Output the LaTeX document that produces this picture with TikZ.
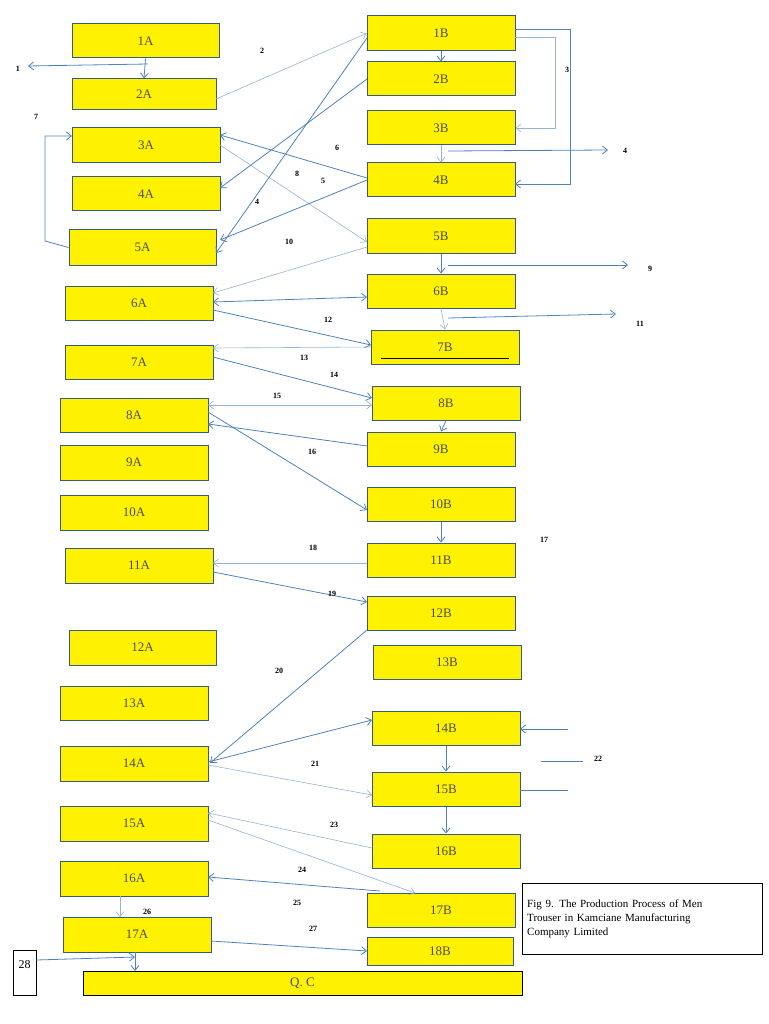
\documentclass[tikz,border=0pt]{standalone}
\usepackage{fontspec}
\setmainfont{Liberation Serif}
\usetikzlibrary{arrows.meta}
\definecolor{ln}{HTML}{4F81BD}
\definecolor{lnl}{HTML}{95B3D7}
\tikzset{
 bx/.style={draw=ln!70!black,fill=yellow,line width=1pt,font=\fontsize{13}{13}\selectfont,text=black!70},
 ar/.style={draw=ln,line width=0.8pt,-{Straight Barb[length=5pt,width=8pt]}},
 arl/.style={draw=lnl,line width=0.6pt,-{Straight Barb[length=5pt,width=8pt]}},
 ln/.style={draw=ln,line width=0.8pt},
 lb/.style={font=\fontsize{8}{8}\selectfont\bfseries}
}
\newcommand{\bxn}[6]{\node[bx,minimum width=#4pt-#2pt,minimum height=#5pt-#3pt,inner sep=0pt] (#1) at ({(#2+#4)/2},{(#3+#5)/2}) {#6};}
\begin{document}
\begin{tikzpicture}[x=1pt,y=-1pt]
\useasboundingbox (0,0) rectangle (768,1024);
\bxn{a1}{72}{24}{219}{58}{1A}
\bxn{a2}{72}{79}{216}{110}{2A}
\bxn{a3}{72}{128}{220}{163}{3A}
\bxn{a4}{72}{177}{220}{211}{4A}
\bxn{a5}{69}{230}{216}{265}{5A}
\bxn{a6}{65}{286}{213}{320}{6A}
\bxn{a7}{65}{345}{213}{379}{7A}
\bxn{a8}{60}{398}{208}{432}{8A}
\bxn{a9}{60}{445}{208}{480}{9A}
\bxn{a10}{60}{495}{208}{530}{10A}
\bxn{a11}{65}{548}{213}{583}{11A}
\bxn{a12}{69}{630}{216}{665}{12A}
\bxn{a13}{60}{686}{208}{720}{13A}
\bxn{a14}{60}{746}{208}{781}{14A}
\bxn{a15}{60}{806}{208}{841}{15A}
\bxn{a16}{60}{861}{208}{896}{16A}
\bxn{a17}{63}{917}{211}{952}{17A}
\node[bx,draw=black,minimum width=439pt,minimum height=24pt,inner sep=0pt] (qc) at (302.5,983) {Q. C};
\bxn{b1}{367}{16}{515}{51}{1B}
\bxn{b2}{367}{62}{515}{96}{2B}
\bxn{b3}{367}{111}{515}{145}{3B}
\bxn{b4}{367}{163}{515}{197}{4B}
\bxn{b5}{367}{219}{515}{253}{5B}
\bxn{b6}{367}{274}{515}{308}{6B}
\bxn{b7}{371}{330}{519}{364}{7B}
\draw[black,line width=0.6pt] (381,358) -- (509,358);
\bxn{b8}{372}{386}{520}{420}{8B}
\bxn{b9}{367}{432}{515}{466}{9B}
\bxn{b10}{367}{487}{515}{521}{10B}
\bxn{b11}{367}{543}{515}{577}{11B}
\bxn{b12}{367}{596}{515}{630}{12B}
\bxn{b13}{373}{645}{521}{679}{13B}
\bxn{b14}{372}{711}{520}{745}{14B}
\bxn{b15}{372}{772}{520}{806}{15B}
\bxn{b16}{372}{834}{520}{868}{16B}
\bxn{b17}{367}{893}{515}{927}{17B}
\bxn{b18}{367}{937}{513}{965}{18B}
\node[draw,fill=white,minimum width=23pt,minimum height=45pt,inner sep=0pt,font=\fontsize{12}{12}\selectfont] (n28) at (24.5,972.5) {\raisebox{16pt}{28}};
\node[draw,minimum width=240pt,minimum height=71pt,inner sep=4pt,text width=230pt,align=left,anchor=north west,font=\fontsize{11}{14}\selectfont] (cap) at (522,883) {Fig 9. The Production Process of Men\\Trouser in Kamciane Manufacturing\\Company Limited\\[4pt]};
% connectors
\draw[ar] (a1.south) -- (a2.north);
\coordinate (e1) at (28,66);
\draw[ar] (148,64) -- (e1);
\node[lb] at (18,69) {1};
\draw[arl] (216,99) -- (b1.west);
\node[lb] at (262,51) {2};
\draw[ar] (b1.south) -- (b2.north);
\draw[arl] (515,37) -- (555,37) -- (555,128) -- (b3.east);
\draw[ar] (515,29) -- (570,29) -- (570,184) -- (515,184);
\node[lb] at (567,70) {3};
\draw[arl] (b3.south) -- (b4.north);
\coordinate (e4) at (608,150);
\draw[ar] (448,151) -- (e4);
\node[lb] at (625,151) {4};
\draw[ar] (367,178) -- (220,135);
\node[lb] at (337,148) {6};
\draw[arl] (220,145) -- (367,242);
\node[lb] at (297,174) {8};
\draw[ar] (367,38) -- (216,253);
\node[lb] at (257,202) {4};
\draw[ar] (367,79) -- (220,188);
\draw[ar] (367,180) -- (220,240);
\node[lb] at (323,181) {5};
\draw[ar] (a5.west) -- (45,241) -- (45,136) -- (72,136);
\node[lb] at (36,117) {7};
\draw[arl] (367,247) -- (213,293);
\node[lb] at (289,242) {10};
\draw[ar] (b5.south) -- (b6.north);
\coordinate (e9) at (628,265);
\draw[ar] (448,265) -- (e9);
\node[lb] at (650,269) {9};
\draw[ar,{Straight Barb[length=5pt,width=8pt]}-{Straight Barb[length=5pt,width=8pt]}] (213,302) -- (367,297);
\draw[arl] (b6.south) -- (b7.north);
\coordinate (e11) at (616,314);
\draw[ar] (448,318) -- (e11);
\node[lb] at (640,324) {11};
\draw[ar] (213,310) -- (371,345);
\node[lb] at (328,320) {12};
\draw[arl] (371,347) -- (213,348);
\node[lb] at (304,358) {13};
\draw[ar] (213,357) -- (372,398);
\node[lb] at (334,375) {14};
\draw[arl,{Straight Barb[length=5pt,width=8pt]}-{Straight Barb[length=5pt,width=8pt]}] (208,405) -- (372,405);
\node[lb] at (277,396) {15};
\draw[ar] (b8.south) -- (b9.north);
\draw[ar] (367,446) -- (208,424);
\node[lb] at (312,452) {16};
\draw[ar] (208,412) -- (367,510);
\draw[ar] (b10.south) -- (b11.north);
\node[lb] at (544,540) {17};
\draw[arl] (367,563) -- (213,563);
\node[lb] at (313,548) {18};
\draw[ar] (213,572) -- (367,602);
\node[lb] at (332,594) {19};
\draw[ar] (367,630) -- (210,763);
\node[lb] at (279,671) {20};
\draw[ar] (208,762) -- (372,720);
\draw[arl] (208,765) -- (372,795);
\node[lb] at (315,764) {21};
\draw[ar] (b14.south) -- (b15.north);
\draw[ar] (b15.south) -- (b16.north);
\coordinate (e22a) at (568,729);
\draw[ar] (e22a) -- (520,729);
\coordinate (e22b) at (541,761); \coordinate (e22c) at (583,761);
\draw[ln] (e22b) -- (e22c);
\node[lb] at (598,759) {22};
\coordinate (e22d) at (568,790);
\draw[ln] (520,790) -- (e22d);
\draw[arl] (372,848) -- (208,813);
\node[lb] at (334,825) {23};
\draw[arl] (208,820) -- (415,893);
\node[lb] at (302,870) {24};
\draw[ar] (380,891) -- (208,877);
\node[lb] at (297,903) {25};
\draw[arl] (120,896) -- (120,917);
\node[lb] at (147,912) {26};
\draw[ar] (211,941) -- (367,951);
\node[lb] at (313,929) {27};
\draw[ar] (n28.east |- 0,960) -- (135,957);
\draw[ar] (135,952) -- (135,971);
\end{tikzpicture}
\end{document}
